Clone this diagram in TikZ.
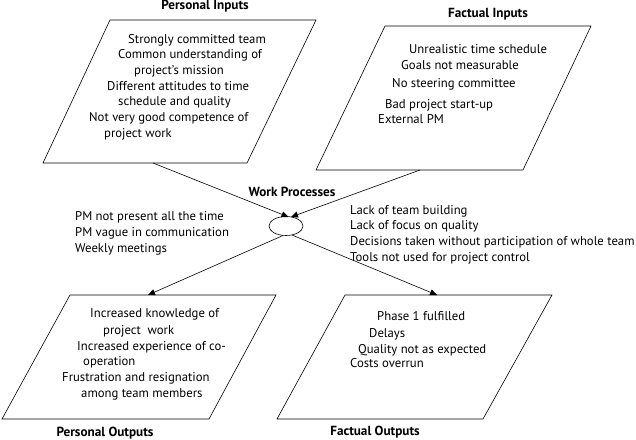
\documentclass[tikz,border=0pt]{standalone}
\usepackage{fontspec}
\setmainfont{PT Sans}
\usetikzlibrary{arrows.meta,shapes.geometric}
\tikzset{
  txt/.style={font=\fontsize{12.7}{14}\selectfont, anchor=base west, inner sep=0pt},
  ttl/.style={font=\bfseries\fontsize{13.2}{15}\selectfont, anchor=base, inner sep=0pt},
  boxline/.style={draw=black, line width=0.6pt, line join=miter},
  conn/.style={draw=black, line width=0.6pt, -{Triangle[length=7pt,width=6pt]}},
}
\begin{document}
\begin{tikzpicture}[x=1pt,y=-1pt]
\useasboundingbox (0,0) rectangle (636,439);
% parallelogram corners
\coordinate (piA) at (110,20);  \coordinate (piB) at (316,20);
\coordinate (piC) at (247,163); \coordinate (piD) at (43,163);
\coordinate (fiA) at (385,26);  \coordinate (fiB) at (591,26);
\coordinate (fiC) at (523,170); \coordinate (fiD) at (316,170);
\coordinate (poA) at (70,295);  \coordinate (poB) at (276,295);
\coordinate (poC) at (209,419); \coordinate (poD) at (2,419);
\coordinate (foA) at (345,295); \coordinate (foB) at (552,295);
\coordinate (foC) at (483,419); \coordinate (foD) at (277,419);
\draw[boxline] (piA) -- (piB) -- (piC) -- (piD) -- cycle;
\draw[boxline] (fiA) -- (fiB) -- (fiC) -- (fiD) -- cycle;
\draw[boxline] (poA) -- (poB) -- (poC) -- (poD) -- cycle;
\draw[boxline] (foA) -- (foB) -- (foC) -- (foD) -- cycle;
% work process ellipse
\node[ellipse, draw, line width=0.6pt, minimum width=34pt, minimum height=19pt, inner sep=0pt] (wp) at (286,226) {};
% connector ends
\coordinate (piOut) at (153,163);
\coordinate (fiOut) at (420,170);
\coordinate (wpIn1) at (288.5,217);
\coordinate (wpIn2) at (291,217);
\coordinate (wpOut1) at (283,235.5);
\coordinate (wpOut2) at (292,235);
\coordinate (poIn) at (148,295);
\coordinate (foIn) at (437,295);
\draw[conn] (piOut) -- (wpIn1);
\draw[conn] (fiOut) -- (wpIn2);
\draw[conn] (wpOut1) -- (poIn);
\draw[conn] (wpOut2) -- (foIn);
% titles
\node[ttl] (tPI) at (205,9.5) {Personal Inputs};
\node[ttl] (tFI) at (488,17) {Factual Inputs};
\node[ttl] (tWP) at (292,196.5) {Work Processes};
\node[ttl] (tPO) at (105,436) {Personal Outputs};
\node[ttl] (tFO) at (375,435.5) {Factual Outputs};
% texts
\foreach \x/\y/\t [count=\i] in {128/43/Strongly committed team, 118/58/Common understanding of, 134/74/project’s mission, 107/90/Different attitudes to time, 118/105/schedule and quality, 89/121/Not very good competence of, 104/137/project work}
  \node[txt] (pi\i) at (\x,\y) {\t};
\foreach \x/\y/\t [count=\i] in {409/53/Unrealistic time schedule, 401/69/Goals not measurable, 392/87/No steering committee, 385/108/Bad project start-up, 378/123/External PM}
  \node[txt] (fi\i) at (\x,\y) {\t};
\foreach \x/\y/\t [count=\i] in {75/220/PM not present all the time, 75/236/PM vague in communication, 75/252/Weekly meetings}
  \node[txt] (wl\i) at (\x,\y) {\t};
\foreach \x/\y/\t [count=\i] in {350/214/Lack of team building, 350/229/Lack of focus on quality, 350/245/Decisions taken without participation of whole team, 350/261/Tools not used for project control}
  \node[txt] (wr\i) at (\x,\y) {\t};
\foreach \x/\y/\t [count=\i] in {90/317/Increased knowledge of, 103/334/project\ \ work, 77/350/Increased experience of co-, 83/365/operation, 62/381/Frustration and resignation, 81/397/among team members}
  \node[txt] (po\i) at (\x,\y) {\t};
\foreach \x/\y/\t [count=\i] in {377/320/Phase 1 fulfilled, 369/337/Delays, 358/353/Quality not as expected, 350/367/Costs overrun}
  \node[txt] (fo\i) at (\x,\y) {\t};
\end{tikzpicture}
\end{document}
